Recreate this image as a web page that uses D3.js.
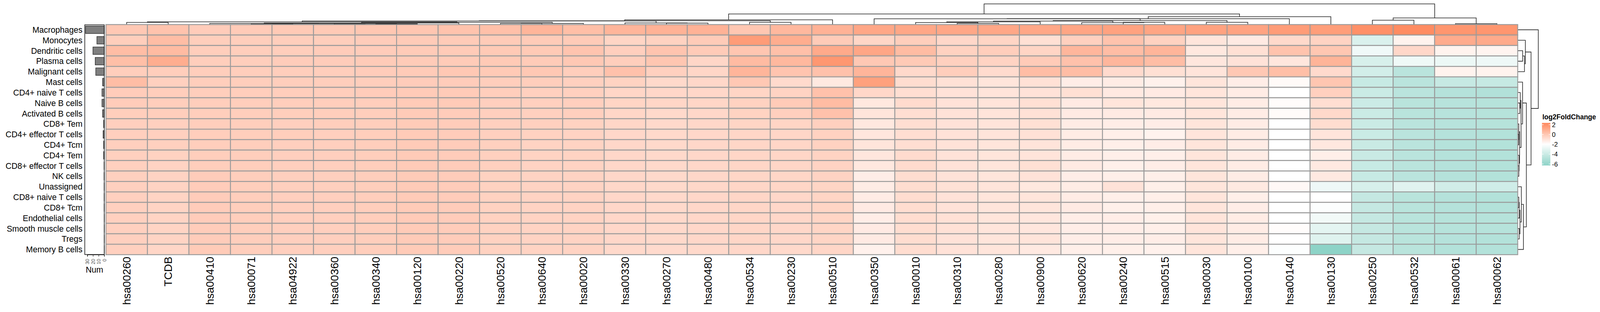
<!DOCTYPE html>
<html><head><meta charset="utf-8">
<script src="https://cdn.jsdelivr.net/npm/d3@7"></script>
<style>html,body{margin:0;padding:0;background:#fff;overflow:hidden}svg{display:block}text{font-family:"Liberation Sans",Arial,sans-serif;fill:#000}</style>
</head><body><div id="chart"></div>
<script>
const rowLabels = ["Macrophages","Monocytes","Dendritic cells","Plasma cells","Malignant cells","Mast cells","CD4+ naive T cells","Naive B cells","Activated B cells","CD8+ Tem","CD4+ effector T cells","CD4+ Tcm","CD4+ Tem","CD8+ effector T cells","NK cells","Unassigned","CD8+ naive T cells","CD8+ Tcm","Endothelial cells","Smooth muscle cells","Tregs","Memory B cells"];
const colLabels = ["hsa00260","TCDB","hsa00410","hsa00071","hsa04922","hsa00360","hsa00340","hsa00120","hsa00220","hsa00520","hsa00640","hsa00020","hsa00330","hsa00270","hsa00480","hsa00534","hsa00230","hsa00510","hsa00350","hsa00010","hsa00310","hsa00280","hsa00900","hsa00620","hsa00240","hsa00515","hsa00030","hsa00100","hsa00140","hsa00130","hsa00250","hsa00532","hsa00061","hsa00062"];
const numCounts = [33,13,20,16,15,3,4,4,3,1,2,1,1,0.3,0.3,0.2,0.2,0.2,0.1,0.1,0.1,0.1];

const hsa00260 = [0.0,-0.2,0.4,0.35,-0.2,0.4,-0.15,-0.15,-0.2,-0.25,-0.25,-0.25,-0.3,-0.3,-0.3,-0.3,-0.3,-0.3,-0.3,-0.3,-0.3,-0.3];
const TCDB = [0.2,0.4,0.5,1.0,-0.2,-0.3,-0.2,-0.2,-0.2,-0.3,-0.3,-0.3,-0.35,-0.4,-0.4,-0.4,-0.42,-0.42,-0.42,-0.42,-0.42,-0.5];
const hsa00410 = [-0.15,-0.2,-0.2,-0.2,-0.2,-0.2,-0.2,-0.2,-0.2,-0.2,-0.2,-0.2,-0.2,-0.2,-0.15,-0.15,-0.15,-0.15,-0.15,-0.15,-0.15,-0.1];
const hsa00071 = [-0.1,-0.2,-0.2,-0.2,-0.2,-0.2,-0.2,-0.2,-0.2,-0.2,-0.2,-0.2,-0.2,-0.2,-0.2,-0.2,-0.2,-0.2,-0.2,-0.2,-0.2,-0.2];
const hsa04922 = [-0.05,-0.2,-0.2,-0.15,-0.2,-0.2,-0.2,-0.2,-0.2,-0.25,-0.2,-0.25,-0.25,-0.25,-0.25,-0.25,-0.25,-0.25,-0.25,-0.25,-0.25,-0.25];
const hsa00360 = [-0.05,-0.2,-0.15,-0.15,-0.2,-0.2,-0.2,-0.2,-0.2,-0.2,-0.25,-0.25,-0.25,-0.25,-0.25,-0.25,-0.25,-0.25,-0.25,-0.25,-0.25,-0.25];
const hsa00340 = [0.05,-0.15,-0.15,-0.1,-0.15,-0.2,-0.15,-0.2,-0.2,-0.2,-0.2,-0.2,-0.2,-0.2,-0.2,-0.2,-0.2,-0.2,-0.2,-0.2,-0.2,-0.2];
const hsa00120 = [0.1,-0.1,-0.1,-0.1,-0.1,-0.15,-0.1,-0.1,-0.1,-0.1,-0.1,-0.1,-0.1,-0.1,-0.1,-0.1,-0.1,-0.1,-0.1,-0.1,-0.1,-0.1];
const hsa00220 = [0.2,-0.1,-0.1,-0.1,0.0,-0.15,-0.1,-0.1,-0.15,-0.15,-0.15,-0.15,-0.15,-0.15,-0.15,-0.15,-0.15,-0.15,-0.15,-0.15,-0.15,-0.15];
const hsa00520 = [0.3,-0.1,-0.05,-0.05,-0.05,-0.2,-0.2,-0.25,-0.25,-0.3,-0.3,-0.3,-0.3,-0.3,-0.35,-0.35,-0.35,-0.35,-0.35,-0.35,-0.35,-0.35];
const hsa00640 = [0.7,-0.1,-0.05,-0.1,0.0,-0.2,-0.3,-0.3,-0.3,-0.3,-0.35,-0.4,-0.4,-0.4,-0.4,-0.4,-0.4,-0.4,-0.4,-0.4,-0.4,-0.4];
const hsa00020 = [0.35,-0.1,0.15,0.0,-0.2,-0.3,-0.3,-0.25,-0.25,-0.35,-0.4,-0.4,-0.4,-0.4,-0.4,-0.4,-0.4,-0.4,-0.4,-0.4,-0.4,-0.4];
const hsa00330 = [0.7,-0.45,-0.25,-0.2,0.25,-0.38,-0.5,-0.45,-0.5,-0.5,-0.55,-0.55,-0.55,-0.55,-0.55,-0.55,-0.55,-0.55,-0.55,-0.55,-0.55,-0.6];
const hsa00270 = [0.8,-0.35,0.15,0.1,-0.3,-0.6,-0.55,-0.5,-0.6,-0.6,-0.6,-0.6,-0.6,-0.6,-0.6,-0.6,-0.6,-0.6,-0.6,-0.6,-0.6,-0.65];
const hsa00480 = [0.8,-0.1,-0.1,-0.5,-0.5,-0.55,-0.55,-0.5,-0.55,-0.55,-0.55,-0.55,-0.55,-0.55,-0.55,-0.55,-0.55,-0.55,-0.55,-0.55,-0.55,-0.6];
const hsa00534 = [0.05,1.6,0.1,0.5,0.7,0.0,-0.45,-0.35,-0.38,-0.45,-0.5,-0.5,-0.5,-0.5,-0.5,-0.5,-0.5,-0.5,-0.5,-0.5,-0.5,-0.55];
const hsa00230 = [0.6,1.0,0.3,0.6,0.15,-0.65,-0.4,-0.1,-0.25,-0.45,-0.5,-0.5,-0.5,-0.5,-0.5,-0.5,-0.55,-0.55,-0.55,-0.55,-0.55,-0.6];
const hsa00510 = [0.8,-0.1,1.1,1.8,0.25,-1.2,0.25,0.45,0.25,-0.3,-0.35,-0.35,-0.4,-0.4,-0.4,-0.45,-0.45,-0.45,-0.45,-0.45,-0.45,-0.5];
const hsa00350 = [1.2,-0.5,1.25,0.0,0.7,1.45,-0.55,-1.15,-1.05,-1.15,-1.1,-1.05,-1.1,-1.15,-1.35,-1.3,-1.3,-1.25,-1.35,-1.25,-1.25,-1.5];
const hsa00010 = [1.2,-0.2,0.45,-0.05,-0.6,-0.75,-0.8,-0.7,-0.8,-0.8,-0.8,-0.8,-0.7,-0.7,-0.75,-0.75,-0.75,-0.75,-0.75,-0.75,-0.75,-0.75];
const hsa00310 = [1.2,-0.55,-0.35,-0.3,-0.2,-0.9,-0.95,-0.95,-0.95,-0.95,-0.95,-0.95,-0.95,-0.95,-0.95,-0.9,-0.95,-0.95,-0.9,-0.9,-0.95,-0.95];
const hsa00280 = [1.2,-0.45,-0.2,-0.4,-0.7,-1.05,-1.0,-1.0,-1.0,-1.0,-1.0,-1.05,-1.05,-1.05,-1.05,-1.0,-1.05,-1.05,-1.05,-1.05,-1.05,-1.05];
const hsa00900 = [1.2,-0.85,-0.45,-0.1,0.4,-0.9,-0.95,-0.85,-0.9,-0.85,-0.9,-1.0,-1.0,-0.85,-0.95,-1.15,-1.05,-1.05,-1.1,-1.1,-1.0,-1.2];
const hsa00620 = [1.3,-0.3,0.65,0.25,0.4,-1.35,-0.85,-1.25,-1.25,-1.3,-1.3,-1.3,-1.3,-1.25,-1.35,-1.3,-1.3,-1.25,-1.35,-1.35,-1.35,-1.4];
const hsa00240 = [1.4,0.2,0.4,0.65,-0.65,-1.3,-1.2,-1.05,-1.25,-1.35,-1.4,-1.4,-1.4,-1.45,-1.4,-0.95,-1.4,-1.45,-1.35,-1.35,-1.35,-1.45];
const hsa00515 = [1.3,-0.35,0.7,0.4,-0.85,-1.5,-1.25,-1.15,-1.25,-1.35,-1.55,-1.35,-1.4,-1.35,-1.4,-1.4,-1.4,-1.4,-1.45,-1.4,-1.35,-1.5];
const hsa00030 = [1.4,-1.05,-1.15,-1.1,-1.0,-1.05,-1.05,-1.05,-1.05,-1.05,-1.05,-1.05,-1.05,-1.05,-1.05,-1.05,-1.05,-1.05,-1.0,-1.0,-1.05,-1.05];
const hsa00100 = [1.35,-1.25,-0.85,-0.95,0.0,-1.35,-1.3,-1.3,-1.3,-1.3,-1.3,-1.3,-1.3,-1.3,-1.3,-1.2,-1.4,-1.35,-1.3,-1.3,-1.3,-1.4];
const hsa00140 = [1.6,-0.6,0.2,-1.1,0.35,-1.8,-2.0,-1.9,-1.85,-2.0,-2.0,-2.0,-2.0,-2.0,-2.0,-1.75,-2.0,-2.0,-2.0,-1.9,-2.0,-2.1];
const hsa00130 = [1.55,-0.4,0.05,0.75,-0.65,0.1,-0.3,-0.8,-0.6,-0.75,-1.05,-1.15,-1.4,-1.2,-1.2,-2.65,-2.0,-2.1,-2.5,-3.0,-3.2,-6.3];
const hsa00250 = [2.05,-3.4,-2.55,-3.5,-3.7,-4.1,-4.0,-3.95,-4.0,-4.0,-4.0,-4.05,-4.05,-4.1,-4.1,-3.5,-4.2,-4.2,-4.2,-4.2,-4.2,-4.2];
const hsa00532 = [2.2,-1.55,-0.55,-2.6,-4.6,-4.6,-4.6,-4.65,-4.65,-4.6,-4.6,-4.6,-4.6,-4.6,-4.6,-3.15,-4.65,-4.65,-4.65,-4.65,-4.65,-4.65];
const hsa00061 = [1.85,1.05,-1.55,-2.7,-1.55,-4.15,-4.8,-4.7,-4.7,-4.7,-4.8,-4.8,-4.8,-4.8,-4.8,-3.75,-4.8,-4.8,-4.75,-4.75,-4.8,-4.85];
const hsa00062 = [1.85,1.1,-1.6,-2.65,-1.55,-4.15,-4.9,-4.75,-4.75,-4.75,-4.85,-4.85,-4.85,-4.85,-4.85,-3.8,-4.85,-4.85,-4.75,-4.75,-4.85,-4.85];
const columns = [hsa00260,TCDB,hsa00410,hsa00071,hsa04922,hsa00360,hsa00340,hsa00120,hsa00220,hsa00520,hsa00640,hsa00020,hsa00330,hsa00270,hsa00480,hsa00534,hsa00230,hsa00510,hsa00350,hsa00010,hsa00310,hsa00280,hsa00900,hsa00620,hsa00240,hsa00515,hsa00030,hsa00100,hsa00140,hsa00130,hsa00250,hsa00532,hsa00061,hsa00062];

// Dendrograms: [height, left, right]; a bare number is a leaf index.
const colTree = [52,
  [26.3,
    [11.3,[8.8,[8.3,
      [6,[4.5,0,1],[4.7,[3,[1.7,2,[1.2,[1,3,4],[1.2,5,[0.9,6,7]]]],8],[2,[1.7,9,10],11]]],
      [3.3,12,[2.7,13,14]]],[4.7,15,16]],17],
    [19.3,[14,[13.7,18,[9.3,[8,[6,[4.3,19,[2,20,21]],22],[4,23,[4.7,24,25]]],[4.7,26,27]]],28],29]],
  [16,[10.3,30,31],[1.3,32,33]]];
const rowTree = [53,0,
  [34,
    [19,1,[16.7,[12,2,3],4]],
    [21.7,
      [11.7,5,[7.7,[5.6,6,[4.3,7,8]],[4,[2,9,[1.5,10,11]],[2.5,12,[2,13,14]]]]],
      [14,[8.5,15,[5,[3,[2,16,17],18],[3,19,20]]],21]]]];

const legendTicks = [2,0,-2,-4,-6];
const numTicks = [0,10,20,30];
const colorStops = [-6.3,-2,2.2];
const colorRange = ["#8DD3C7","#FFFFFF","#FF8C62"];

const hm = {left:278,right:3984,top:63,bottom:653};
// The layout is 4200 wide; fit it to whatever width the window really has.
const svg = d3.select("#chart").append("svg")
  .attr("width",window.innerWidth).attr("height",800)
  .attr("viewBox","0 0 4200 800").attr("preserveAspectRatio","none");
svg.append("rect").attr("width",4200).attr("height",800).attr("fill","#fff");

const x = d3.scaleBand().domain(d3.range(colLabels.length)).range([hm.left,hm.right]);
const y = d3.scaleBand().domain(d3.range(rowLabels.length)).range([hm.top,hm.bottom]);
const color = d3.scaleLinear().domain(colorStops).range(colorRange).interpolate(d3.interpolateRgb).clamp(true);

// heatmap
const cellData = columns.flatMap((col,c)=>col.map((v,r)=>({c,r,v})));
svg.append("g").selectAll("rect").data(cellData).join("rect")
  .attr("x",d=>x(d.c)).attr("y",d=>y(d.r))
  .attr("width",x.bandwidth()).attr("height",y.bandwidth())
  .attr("fill",d=>color(d.v)).attr("stroke","#9b9b9b").attr("stroke-width",2.4);

// row labels
svg.append("g").selectAll("text").data(rowLabels).join("text")
  .attr("x",216.5).attr("y",(d,i)=>y(i)+y.bandwidth()/2).attr("dy","0.35em")
  .attr("text-anchor","end").attr("font-size",21.7).text(d=>d);

// column labels
svg.append("g").selectAll("text").data(colLabels).join("text")
  .attr("transform",(d,i)=>`translate(${x(i)+x.bandwidth()/2},658) rotate(-90)`)
  .attr("dy","0.36em").attr("text-anchor","end").attr("font-size",28.2).text(d=>d);

// Num bars
const barX = d3.scaleLinear().domain([0,30]).range([273.6,229.2]);
const barY = d3.scaleBand().domain(d3.range(rowLabels.length)).range([hm.top,hm.bottom]).paddingInner(0.29).paddingOuter(0.145);
const gb = svg.append("g");
gb.selectAll("rect").data(numCounts).join("rect")
  .attr("x",d=>barX(d)).attr("y",(d,i)=>barY(i)).attr("width",d=>barX(0)-barX(d)).attr("height",barY.bandwidth())
  .attr("fill","#7f7f7f").attr("stroke","#333").attr("stroke-width",1.5);
gb.append("rect").attr("x",222.6).attr("y",63.6).attr("width",51).attr("height",589)
  .attr("fill","none").attr("stroke","#111").attr("stroke-width",1.6);
const ax = svg.append("g").attr("transform","translate(0,652.8)")
  .call(d3.axisBottom(barX).tickValues(numTicks).tickSize(5).tickPadding(0).tickFormat(d3.format("d")));
ax.select(".domain").attr("stroke","#111").attr("stroke-width",1.6);
ax.selectAll(".tick line").attr("stroke","#333").attr("stroke-width",1.5);
ax.selectAll(".tick text").attr("transform","translate(0,11) rotate(-90)").attr("x",0).attr("y",0).attr("dy","0.36em")
  .attr("text-anchor","end").attr("font-size",12.6).style("font-family",'"Liberation Sans"').style("fill","#4d4d4d");
svg.append("text").attr("x",248).attr("y",699).attr("text-anchor","middle").attr("font-size",21.7).text("Num");

// dendrograms
function layout(node,pos){
  if(typeof node==="number") return {h:0,p:pos(node),segs:[]};
  const [h,a,b]=node; const L=layout(a,pos), R=layout(b,pos);
  return {h,p:(L.p+R.p)/2,segs:[...L.segs,...R.segs,{h,lp:L.p,lh:L.h,rp:R.p,rh:R.h}]};
}
const colH = d3.scaleLinear().domain([0,52]).range([62,10]);
const colLay = layout(colTree,i=>x(i)+x.bandwidth()/2);
svg.append("g").selectAll("path").data(colLay.segs).join("path")
  .attr("d",s=>`M${s.lp},${colH(s.lh)}V${colH(s.h)}H${s.rp}V${colH(s.rh)}`)
  .attr("fill","none").attr("stroke","#222").attr("stroke-width",1.6);
const rowH = d3.scaleLinear().domain([0,53]).range([3985,4038]);
const rowLay = layout(rowTree,i=>y(i)+y.bandwidth()/2);
svg.append("g").selectAll("path").data(rowLay.segs).join("path")
  .attr("d",s=>`M${rowH(s.lh)},${s.lp}H${rowH(s.h)}V${s.rp}H${rowH(s.rh)}`)
  .attr("fill","none").attr("stroke","#222").attr("stroke-width",1.6);

// legend
const legY = d3.scaleLinear().domain([2,-6]).range([319.7,420.4]);
const defs = svg.append("defs");
const grad = defs.append("linearGradient").attr("id","lg").attr("x1",0).attr("x2",0).attr("y1",0).attr("y2",1);
const legTop=315, legBot=424.3;
grad.selectAll("stop").data(d3.range(0,1.0001,0.05)).join("stop")
  .attr("offset",d=>d).attr("stop-color",d=>color(legY.invert(legTop+d*(legBot-legTop))));
svg.append("rect").attr("x",4047.7).attr("y",legTop).attr("width",22).attr("height",legBot-legTop).attr("fill","url(#lg)");
const lt = svg.append("g").selectAll("g").data(legendTicks).join("g");
lt.append("line").attr("x1",4047.7).attr("x2",4052).attr("y1",d=>legY(d)).attr("y2",d=>legY(d)).attr("stroke","#fff").attr("stroke-width",1.2);
lt.append("line").attr("x1",4065.4).attr("x2",4069.7).attr("y1",d=>legY(d)).attr("y2",d=>legY(d)).attr("stroke","#fff").attr("stroke-width",1.2);
lt.append("text").attr("x",4074).attr("y",d=>legY(d)).attr("dy","0.36em").attr("font-size",17).text(d=>d);
svg.append("text").attr("x",4048.7).attr("y",305.7).attr("font-size",18).attr("font-weight","bold").text("log2FoldChange");
</script></body></html>
